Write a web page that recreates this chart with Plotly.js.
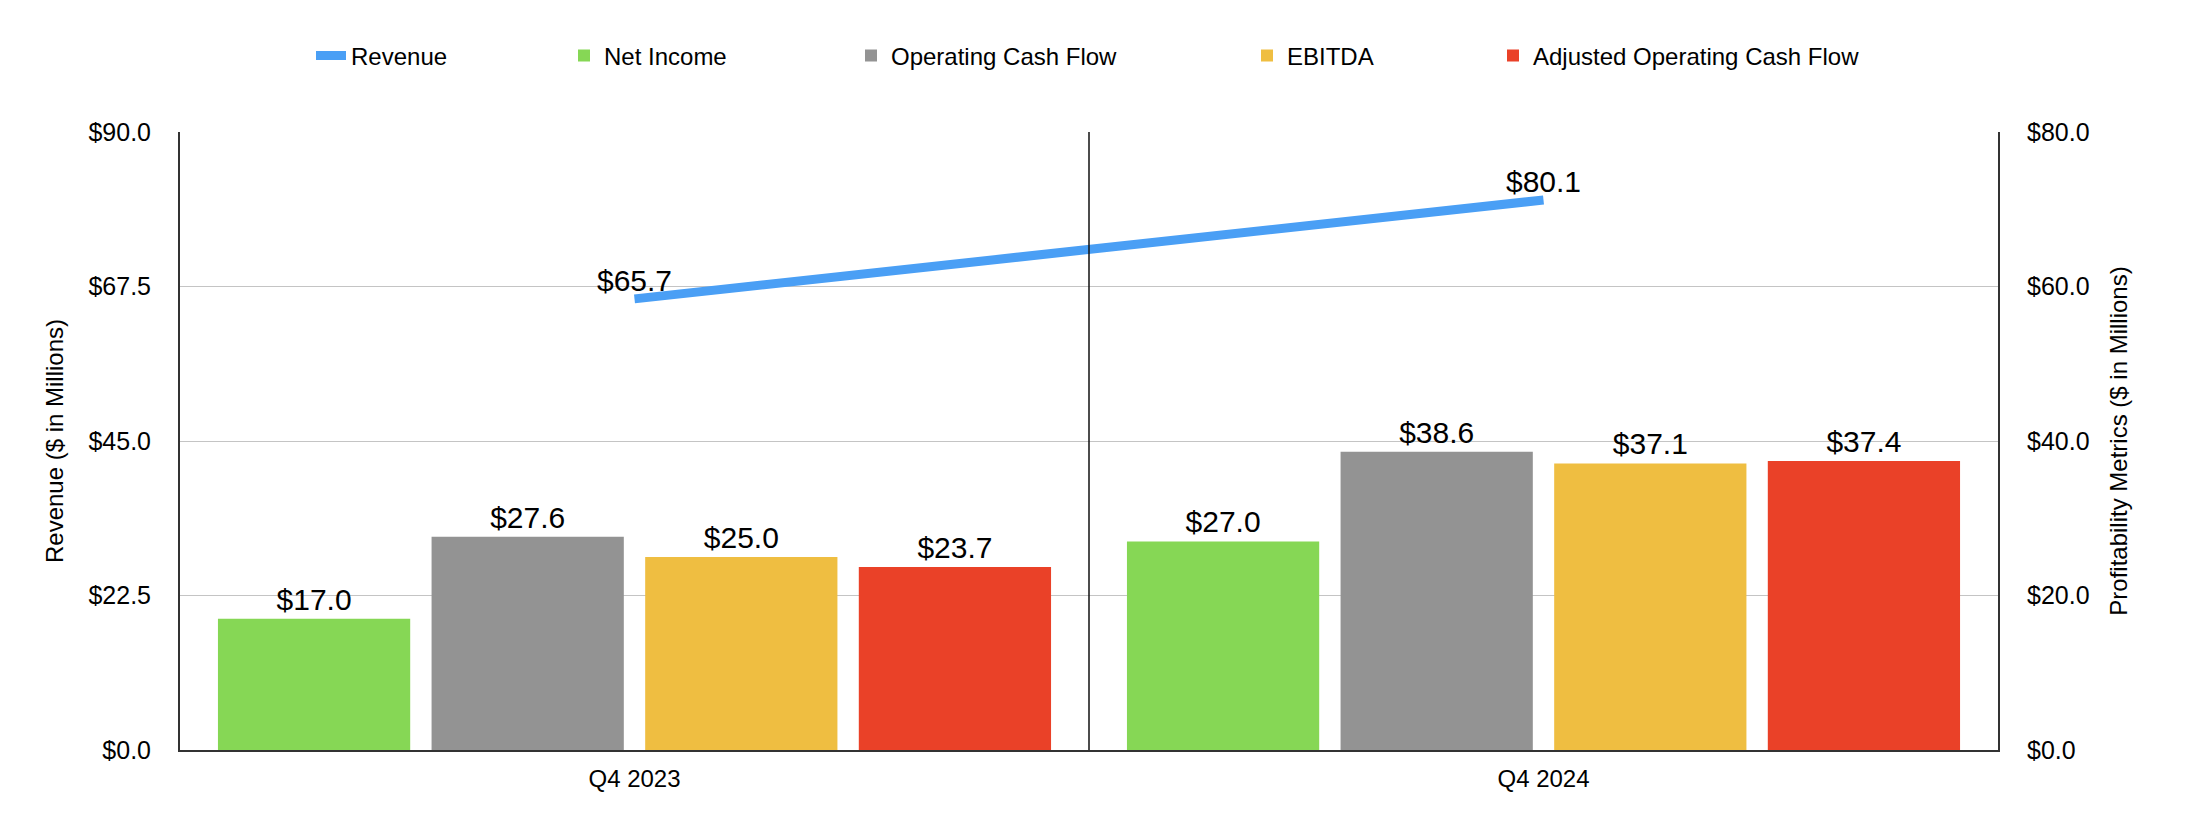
<!DOCTYPE html>
<html>
<head>
<meta charset="utf-8">
<script src="https://cdn.plot.ly/plotly-3.0.1.min.js"></script>
<style>html,body{margin:0;padding:0;background:#fff;}#chart{width:2186px;height:836px;}</style>
</head>
<body>
<div id="chart"></div>
<script>
const categories = ["Q4 2023", "Q4 2024"];
const revenue = [65.7, 80.1];
const netIncome = [17.0, 27.0];
const operatingCashFlow = [27.6, 38.6];
const ebitda = [25.0, 37.1];
const adjustedOperatingCashFlow = [23.7, 37.4];
const leftTicks = [0, 22.5, 45, 67.5, 90];
const rightTicks = [0, 20, 40, 60, 80];

const FONT = "Liberation Sans, Arial, Helvetica, sans-serif";

function barTrace(name, values, color, legendId) {
  return {
    type: "bar", name: name, x: categories, y: values, yaxis: "y2",
    marker: {color: color, line: {width: 0}},
    text: values.map(v => "$" + v.toFixed(1)),
    textposition: "outside", cliponaxis: false,
    textfont: {size: 30, color: "#000", family: FONT},
    legend: legendId, hoverinfo: "skip"
  };
}

const traces = [
  barTrace("Net Income", netIncome, "#86D755", "legend2"),
  barTrace("Operating Cash Flow", operatingCashFlow, "#939393", "legend3"),
  barTrace("EBITDA", ebitda, "#EFBE41", "legend4"),
  barTrace("Adjusted Operating Cash Flow", adjustedOperatingCashFlow, "#EA4128", "legend5"),
  {
    type: "scatter", mode: "lines+text", name: "Revenue", x: categories, y: revenue,
    yaxis: "y", line: {color: "#4A9FF5", width: 9},
    text: revenue.map(v => "$" + v.toFixed(1)), textposition: "top center",
    textfont: {size: 30, color: "#000", family: FONT}, cliponaxis: false,
    legend: "legend", hoverinfo: "skip"
  }
];

function leg(x) {
  return {orientation: "h", x: x, y: 1.123, xanchor: "left", yanchor: "middle",
          font: {size: 24, color: "#000", family: FONT}, bgcolor: "rgba(0,0,0,0)",
          borderwidth: 0};
}
const plotL = 180, plotW = 1818;
function lx(textStart) { return (textStart - 45 - plotL) / plotW; }

const layout = {
  width: 2186, height: 836,
  margin: {l: 180, r: 188, t: 132, b: 86},
  paper_bgcolor: "#fff", plot_bgcolor: "#fff",
  font: {family: FONT, size: 24, color: "#000"},
  barmode: "group", bargap: 0.06, bargroupgap: 0.1,
  xaxis: {
    type: "category", range: [-0.5, 1.5], showline: true, linecolor: "#333", linewidth: 2,
    ticks: "", showgrid: false, zeroline: false, tickfont: {size: 24, color: "#000"},
    ticklabelstandoff: 6, fixedrange: true
  },
  yaxis: {
    range: [0, 90], tickvals: leftTicks, ticktext: leftTicks.map(v => "$" + v.toFixed(1)),
    showgrid: true, gridcolor: "#C4C4C4", gridwidth: 1, zeroline: false,
    showline: true, linecolor: "#333", linewidth: 2, ticks: "", ticklabelstandoff: 22,
    tickfont: {size: 25, color: "#000"},
    title: {text: "Revenue ($ in Millions)", font: {size: 24, color: "#000"}, standoff: 18}
  },
  yaxis2: {
    range: [0, 80], overlaying: "y", side: "right", tickvals: rightTicks,
    ticktext: rightTicks.map(v => "$" + v.toFixed(1)), showgrid: false, zeroline: false,
    showline: true, linecolor: "#333", linewidth: 2, ticks: "", ticklabelstandoff: 22,
    tickfont: {size: 25, color: "#000"},
    title: {text: "Profitability Metrics ($ in Millions)", font: {size: 24, color: "#000"}, standoff: 22}
  },
  shapes: [{type: "line", xref: "x", yref: "paper", x0: 0.5, x1: 0.5, y0: 0, y1: 1,
            line: {color: "#111", width: 1.5}}],
  legend: leg(lx(356)),
  legend2: leg(lx(609)),
  legend3: leg(lx(896)),
  legend4: leg(lx(1292)),
  legend5: leg(lx(1538)),
  showlegend: true
};

Plotly.newPlot("chart", traces, layout, {staticPlot: true, displayModeBar: false});
</script>
</body>
</html>
